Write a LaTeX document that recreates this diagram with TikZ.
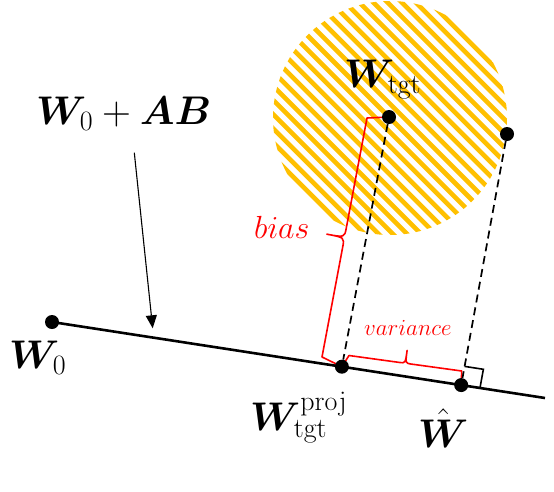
\RequirePackage{fix-cm}
\documentclass[tikz,border=0pt]{standalone}
\usepackage{amsmath}
\usepackage{bm}
\usetikzlibrary{arrows.meta,calc}
\definecolor{hatchc}{RGB}{255,192,0}
\begin{document}
\begin{tikzpicture}[x=1pt,y=-1pt,
  font=\fontsize{40}{48}\selectfont,
  dot/.style={circle,fill=black,inner sep=0pt,minimum size=14pt},
  lbl/.style={inner sep=0pt,anchor=base west},
  mainline/.style={line width=2.6pt},
  projline/.style={line width=1.7pt,dash pattern=on 8pt off 5pt},
  bracec/.style={red,line width=1.6pt},
  stripe/.style={hatchc,line width=4.6pt},
  ptr/.style={line width=1.1pt,-{Triangle[length=13pt,width=11pt]}},
  ]
\useasboundingbox (0,0) rectangle (554,491);
% hatched region
\coordinate (cc) at (390,118);
\begin{scope}
  \clip (cc) circle[radius=117];
  \foreach \k in {-18,...,18}
    \draw[stripe] ($(cc)+(\k*7.071-160,-\k*7.071-160)$) -- ++(320,320);
\end{scope}
% base line and points
\coordinate (lineend) at (545,398);
\node[dot] (w0) at (52,322) {};
\coordinate (wproj) at ($(w0)!0.588!(lineend)$);
\coordinate (what) at ($(w0)!0.83!(lineend)$);
\coordinate (wt) at (389,117);
\coordinate (wo) at (507,134);
\draw[mainline] (w0.center) -- (lineend);
% bias brace
\coordinate (ba) at (367,118);
\coordinate (bb) at (322,357);
\coordinate (btip) at ($($(ba)!0.5!(bb)$)!18pt!90:(ba)$);
\draw[bracec,line join=round] (wt) -- (ba) -- ($(ba)!0.46!(bb)$)
  .. controls ($(ba)!0.5!(bb)$) .. (btip)
  .. controls ($(ba)!0.5!(bb)$) .. ($(ba)!0.54!(bb)$) -- (bb) -- (wproj);
% variance brace
\coordinate (vc) at (349,355.5);
\coordinate (vd) at (461.7,371);
\coordinate (vtip) at ($($(vc)!0.5!(vd)$)!13pt!90:(vd)$);
\draw[bracec,line join=round] (wproj) -- (vc) -- ($(vc)!0.45!(vd)$)
  .. controls ($(vc)!0.5!(vd)$) .. (vtip)
  .. controls ($(vc)!0.5!(vd)$) .. ($(vc)!0.55!(vd)$) -- (vd) -- (what);
% dots
\node[dot] (nproj) at (wproj) {};
\node[dot] (nhat) at (what) {};
\node[dot] (ntgt) at (wt) {};
\node[dot] (nother) at (wo) {};
% projections
\draw[projline] (ntgt) -- (nproj);
\draw[projline] (nother) -- (nhat);
% right angle mark
\coordinate (ra1) at ($(what)!19pt!(wo)$);
\coordinate (ra2) at ($(what)!19pt!(lineend)$);
\draw[line width=1.6pt] (ra1) -- ($(ra1)+(ra2)-(what)$) -- (ra2);
% labels
\node[lbl] (lab) at (36,124) {$\bm{W}_0+\bm{A}\bm{B}$};
\node[lbl] (l0) at (9,368) {$\bm{W}_0$};
\node[lbl] (ltgt) at (344,87.5) {$\bm{W}_{\mathrm{tgt}}$};
\node[lbl] (lproj) at (250,430) {$\bm{W}_{\mathrm{tgt}}^{\mathrm{proj}}$};
\node[lbl] (lhat) at (418,447) {$\hat{\bm{W}}$};
\node[lbl,red,font=\fontsize{32}{38}\selectfont] (lbias) at (254,238.3) {$bias$};
\node[lbl,red,font=\fontsize{23}{28}\selectfont] (lvar) at (364,335) {$variance$};
% pointer
\coordinate (arrstart) at (134.3,152.7);
\coordinate (arrtip) at (152.7,328.3);
\draw[ptr] (arrstart) -- (arrtip);
\end{tikzpicture}
\end{document}
